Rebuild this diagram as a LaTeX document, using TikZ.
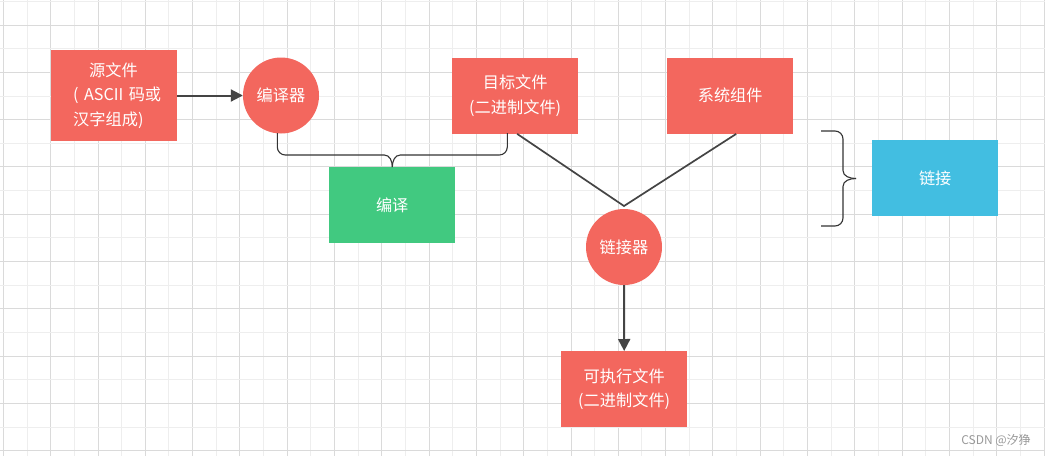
\documentclass[tikz,border=0pt]{standalone}
\usepackage{fontspec}
\setmainfont{Noto Sans CJK SC}
\usetikzlibrary{arrows.meta,calc}
\definecolor{boxred}{RGB}{243,103,94}
\definecolor{boxgreen}{RGB}{65,201,128}
\definecolor{boxblue}{RGB}{66,190,225}
\definecolor{gridlight}{RGB}{238,238,238}
\definecolor{griddark}{RGB}{218,218,218}
\definecolor{linegray}{RGB}{68,68,68}
\begin{document}
\begin{tikzpicture}[x=1pt,y=-1pt,
  boxstyle/.style={rectangle,anchor=north west,minimum width=126pt,minimum height=76pt,inner sep=0pt,text=white,align=center,font=\fontsize{16.2}{24.5}\selectfont},
  circstyle/.style={circle,minimum size=76pt,inner sep=0pt,fill=boxred,text=white,font=\fontsize{16.2}{24.5}\selectfont},
  arrowline/.style={draw=linegray,line width=2pt,-{Triangle[length=12pt,width=12pt]}},
  plainline/.style={draw=linegray,line width=1.7pt},
  bracestyle/.style={draw=black!80,line width=1.1pt}
]
\useasboundingbox (0,0) rectangle (1045,456);
\fill[white] (0,0) rectangle (1045,456);
% grid
\foreach \i in {0,...,44}{
  \pgfmathsetmacro\xx{3.3+23.65*\i}
  \pgfmathtruncatemacro\ev{mod(\i,2)}
  \ifnum\ev=0
    \draw[griddark,line width=0.8pt] (\xx,0) -- (\xx,456);
  \else
    \draw[gridlight,line width=0.8pt] (\xx,0) -- (\xx,456);
  \fi
}
\foreach \i in {0,...,19}{
  \pgfmathsetmacro\yy{1.3+23.65*\i}
  \pgfmathtruncatemacro\ev{mod(\i,2)}
  \ifnum\ev=1
    \draw[griddark,line width=0.8pt] (0,\yy) -- (1045,\yy);
  \else
    \draw[gridlight,line width=0.8pt] (0,\yy) -- (1045,\yy);
  \fi
}
% nodes
\node[boxstyle,fill=boxred,minimum height=91pt,text width=126pt,align=left] (src) at (51,50) {\hspace*{38pt}源文件\\\hspace*{22pt}( ASCII 码或\\\hspace*{22pt}汉字组成)};
\node[circstyle] (comp) at (281,95.5) {编译器};
\node[boxstyle,fill=boxred] (obj) at (452,57.5) {目标文件\\(二进制文件)};
\node[boxstyle,fill=boxred] (sys) at (667,57.5) {系统组件};
\node[boxstyle,fill=boxgreen] (compile) at (329,167) {编译};
\node[circstyle] (linker) at (624,247) {链接器};
\node[boxstyle,fill=boxred] (exe) at (561,351) {可执行文件\\(二进制文件)};
\node[boxstyle,fill=boxblue] (link) at (872,140) {链接};
\node[text=black!40,font=\fontsize{12}{13}\selectfont] (wm) at (996,440) {CSDN @汐狰};
% connectors
\draw[arrowline] (src.east |- comp.west) -- (comp.west);
\draw[arrowline] (linker.south) -- (exe.north);
\coordinate (v) at (624,206);
\draw[plainline] ([xshift=2pt]obj.south) -- (v) -- ([xshift=6pt]sys.south);
% lower brace
\coordinate (bl) at (277.3,133);
\coordinate (br) at (507.3,133);
\coordinate (bt) at (392.3,167);
\draw[bracestyle] (bl) -- ($(bl)+(0,14)$) to[out=-90,in=180] ($(bl)+(8,22)$) -- ($(bt)+(-8,-12)$) to[out=0,in=90] (bt);
\draw[bracestyle] (bt) to[out=90,in=180] ($(bt)+(8,-12)$) -- ($(br)+(-8,22)$) to[out=0,in=-90] ($(br)+(0,14)$) -- (br);
% right brace
\coordinate (rt) at (821,131);
\coordinate (rb) at (821,226);
\coordinate (rtip) at (856,178.5);
\draw[bracestyle] (rt) -- ($(rt)+(14,0)$) to[out=0,in=90] ($(rt)+(22,8)$) -- ($(rtip)+(-13,-8)$) to[out=-90,in=180] (rtip);
\draw[bracestyle] (rtip) to[out=180,in=90] ($(rtip)+(-13,8)$) -- ($(rb)+(22,-8)$) to[out=-90,in=0] ($(rb)+(14,0)$) -- (rb);
\end{tikzpicture}
\end{document}
